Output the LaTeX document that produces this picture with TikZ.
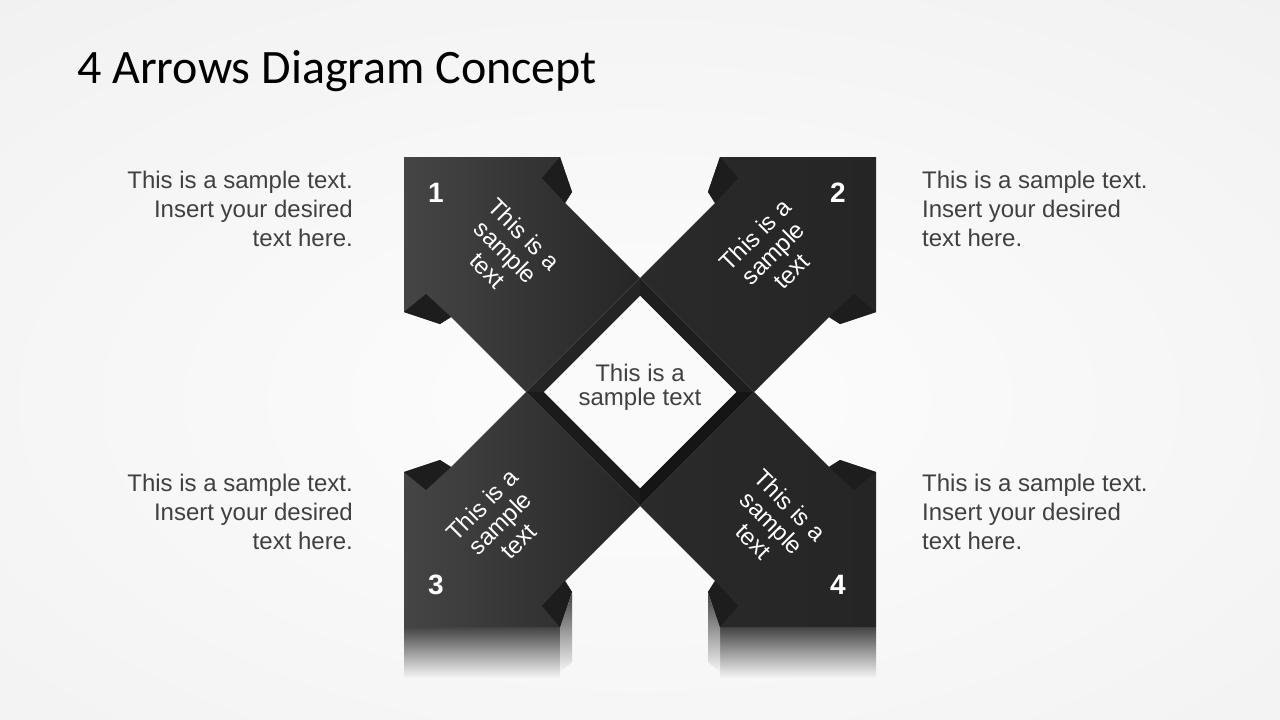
\documentclass[tikz,border=0pt]{standalone}
\usepackage{fontspec}
\setmainfont{Liberation Sans}
\newfontfamily\titlefont{Carlito}
\definecolor{bgA}{HTML}{FDFDFD}
\definecolor{bgB}{HTML}{F3F3F3}
\definecolor{bgC}{HTML}{E3E3E3}
\definecolor{arrL}{HTML}{454545}
\definecolor{arrR}{HTML}{262626}
\definecolor{arrD}{HTML}{252525}
\definecolor{arrD2}{HTML}{2A2A2A}
\definecolor{foldc}{HTML}{1D1D1D}
\definecolor{frUL}{HTML}{242424}
\definecolor{frUR}{HTML}{1E1E1E}
\definecolor{frLL}{HTML}{1B1B1B}
\definecolor{frLR}{HTML}{151515}
\definecolor{inner}{HTML}{FAFAFA}
\definecolor{txt}{HTML}{404040}
\definecolor{refl}{HTML}{444444}
\definecolor{reflEnd}{HTML}{F6F6F6}
\pgfdeclareradialshading{bgshade}{\pgfpoint{0bp}{0bp}}{color(0bp)=(bgA); color(28bp)=(bgB); color(72bp)=(bgC)}
\tikzset{
  sidetxt/.style={text=txt, font=\fontsize{24}{29}\selectfont, inner sep=0pt},
  arrowtxt/.style={text=white, font=\fontsize{24}{25.5}\selectfont, align=center, inner sep=0pt},
  numtxt/.style={text=white, font=\bfseries\fontsize{28}{30}\selectfont, inner sep=0pt},
  foldpart/.style={fill=foldc},
  reflpart/.style={top color=refl, bottom color=reflEnd},
}
\begin{document}
\begin{tikzpicture}[x=1pt,y=-1pt]
\useasboundingbox (0,0) rectangle (1280,720);
\shade[shading=bgshade] (-100,0) rectangle (1380,800);

% reflections under bottom arrows
\shade[reflpart] (404,627) rectangle (560,678);
\shade[reflpart] (560,627) -- (572,593) -- (572,662) -- (560,672) -- cycle;
\shade[reflpart] (720,627) rectangle (876,678);
\shade[reflpart] (720,627) -- (708,593) -- (708,662) -- (720,672) -- cycle;

% arrow 1 (top left)
\shade[left color=arrL, right color=arrR]
  (404,157) -- (560,157) -- (572,192) -- (565,203) -- (640,278) -- (526,392)
  -- (451,317) -- (440,324) -- (404,312) -- cycle;
\fill[foldpart] (542,178) -- (560,157) -- (572,192) -- (565,203) -- cycle;
\fill[foldpart] (426,294) -- (404,312) -- (440,324) -- (451,317) -- cycle;

% arrow 2 (top right)
\shade[left color=arrD2, right color=arrD]
  (876,157) -- (720,157) -- (708,192) -- (715,203) -- (640,278) -- (754,392)
  -- (829,317) -- (840,324) -- (876,312) -- cycle;
\fill[foldpart] (738,178) -- (720,157) -- (708,192) -- (715,203) -- cycle;
\fill[foldpart] (854,294) -- (876,312) -- (840,324) -- (829,317) -- cycle;

% arrow 3 (bottom left)
\shade[left color=arrL, right color=arrR]
  (404,627) -- (560,627) -- (572,592) -- (565,581) -- (640,506) -- (526,392)
  -- (451,467) -- (440,460) -- (404,472) -- cycle;
\fill[foldpart] (542,606) -- (560,627) -- (572,592) -- (565,581) -- cycle;
\fill[foldpart] (426,490) -- (404,472) -- (440,460) -- (451,467) -- cycle;

% arrow 4 (bottom right)
\shade[left color=arrD2, right color=arrD]
  (876,627) -- (720,627) -- (708,592) -- (715,581) -- (640,506) -- (754,392)
  -- (829,467) -- (840,460) -- (876,472) -- cycle;
\fill[foldpart] (738,606) -- (720,627) -- (708,592) -- (715,581) -- cycle;
\fill[foldpart] (854,490) -- (876,472) -- (840,460) -- (829,467) -- cycle;

% central frame
\fill[frUL] (640,278) -- (526,392) -- (544,392) -- (640,296) -- cycle;
\fill[frUR] (640,278) -- (754,392) -- (736,392) -- (640,296) -- cycle;
\fill[frLL] (640,506) -- (526,392) -- (544,392) -- (640,488) -- cycle;
\fill[frLR] (640,506) -- (754,392) -- (736,392) -- (640,488) -- cycle;
\fill[inner] (640,296) -- (736,392) -- (640,488) -- (544,392) -- cycle;

% title
\node[anchor=base west, inner sep=0pt, text=black, font=\titlefont\fontsize{48}{50}\selectfont] (title) at (77,83) {4 Arrows Diagram Concept};

% center text
\node[text=txt, font=\fontsize{24}{24}\selectfont, align=center, inner sep=0pt] (center) at (640,387) {This is a\\sample text};

% arrow texts
\node[arrowtxt, rotate=-45] (t1) at (506,252) {This is a\\sample\\text};
\node[arrowtxt, rotate=45] (t2) at (773,253) {This is a\\sample\\text};
\node[arrowtxt, rotate=45] (t3) at (500,523) {This is a\\sample\\text};
\node[arrowtxt, rotate=-45] (t4) at (772,523) {This is a\\sample\\text};

% numbers
\node[numtxt] (n1) at (436,193) {1};
\node[numtxt] (n2) at (838,193) {2};
\node[numtxt] (n3) at (436,585) {3};
\node[numtxt] (n4) at (838,585) {4};

% side texts
\node[sidetxt, align=right, anchor=north east] (s1) at (353,171) {This is a sample text.\\Insert your desired\\text here.};
\node[sidetxt, align=left, anchor=north west] (s2) at (922,171) {This is a sample text.\\Insert your desired\\text here.};
\node[sidetxt, align=right, anchor=north east] (s3) at (353,474) {This is a sample text.\\Insert your desired\\text here.};
\node[sidetxt, align=left, anchor=north west] (s4) at (922,474) {This is a sample text.\\Insert your desired\\text here.};
\end{tikzpicture}
\end{document}
